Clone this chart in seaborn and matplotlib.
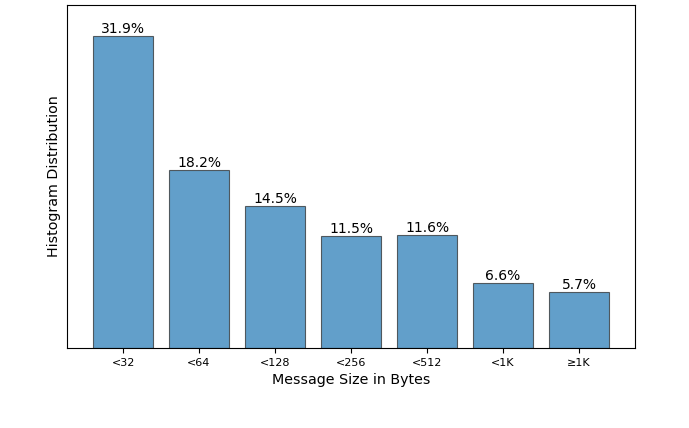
import matplotlib
matplotlib.use('Agg')
import matplotlib.pyplot as plt
import pandas as pd
import seaborn as sns

# Data
sizes = ['<32', '<64', '<128', '<256', '<512', '<1K', '≥1K']
shares = [31.9, 18.2, 14.5, 11.5, 11.6, 6.6, 5.7]

df = pd.DataFrame({'size': sizes, 'share': shares})

plt.rcParams['font.family'] = ['DejaVu Sans']
fig, ax = plt.subplots(figsize=(6.89, 4.28), dpi=100)
fig.subplots_adjust(left=0.097, right=0.922, top=0.988, bottom=0.187)

sns.barplot(data=df, x='size', y='share', order=sizes, color='#1f77b4',
            alpha=0.7, width=0.8, edgecolor='#262626', linewidth=0.8,
            saturation=1, ax=ax)

for i, v in enumerate(shares):
    ax.text(i, v, f'{v}%', ha='center', va='bottom', fontsize=10)

ax.set_xlim(-0.74, 6.74)
ax.set_ylim(0, max(shares) * 1.1)
ax.set_yticks([])
ax.tick_params(axis='x', labelsize=8)
ax.set_xlabel('Message Size in Bytes', fontsize=10.3)
ax.set_ylabel('Histogram Distribution', fontsize=10.3)

fig.savefig('out.png', dpi=100)
